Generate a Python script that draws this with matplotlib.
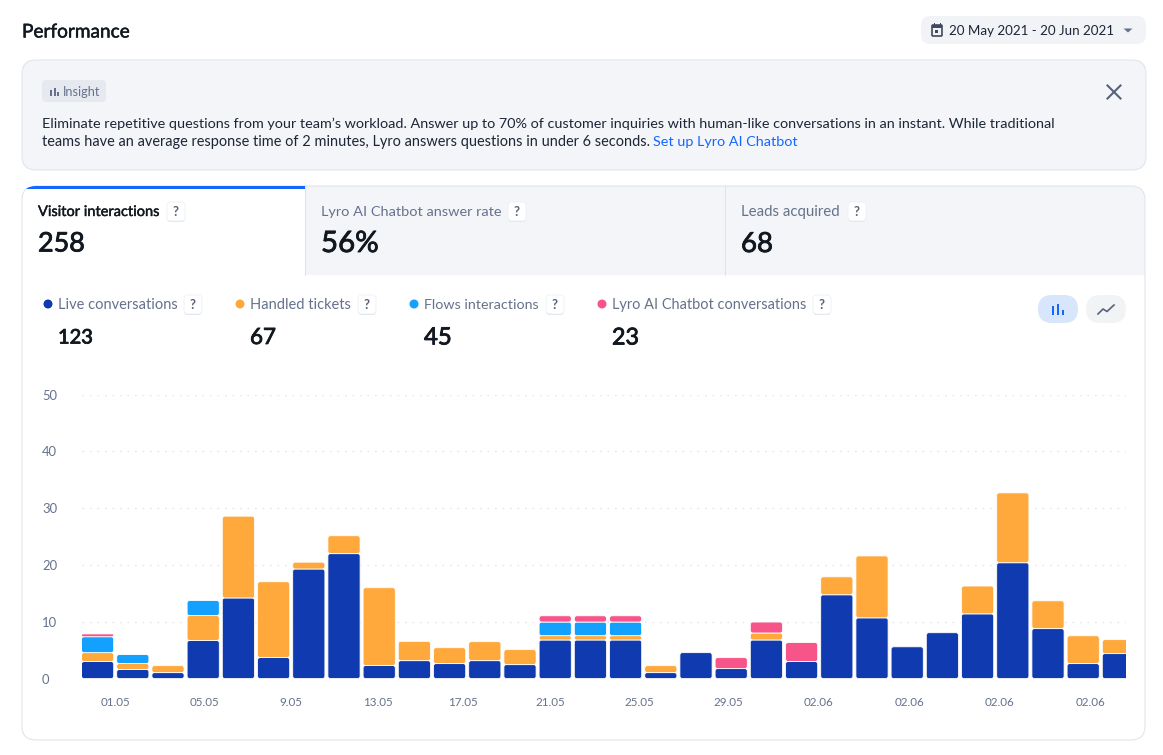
import matplotlib
matplotlib.use('Agg')
import matplotlib.pyplot as plt
import matplotlib.patheffects as pe
from matplotlib.patches import FancyBboxPatch, Rectangle, Circle, Polygon

plt.rcParams['font.family'] = ['Lato', 'DejaVu Sans']

# Daily counts per conversation type
live = [3.0, 1.6, 1.05, 6.7, 14.2, 3.7, 19.3, 22.0, 2.3, 3.16, 2.64, 3.16, 2.46, 6.8, 6.8,
        6.8, 1.05, 4.57, 1.76, 6.8, 3.0, 14.76, 10.7, 5.6, 8.08, 11.4, 20.4, 8.8, 2.64, 4.4]
handled = [1.57, 1.05, 1.23, 4.4, 14.4, 13.35, 1.2, 3.15, 13.7, 3.4, 2.8, 3.34, 2.64, 0.76, 0.76,
           0.76, 1.23, 0, 0, 1.23, 0, 3.16, 10.9, 0, 0, 4.9, 12.3, 4.9, 4.9, 2.46]
flows = [2.8, 1.58, 0, 2.64, 0, 0, 0, 0, 0, 0, 0, 0, 0, 2.4, 2.4,
         2.4, 0, 0, 0, 0, 0, 0, 0, 0, 0, 0, 0, 0, 0, 0]
lyro = [0.5, 0, 0, 0, 0, 0, 0, 0, 0, 0, 0, 0, 0, 1.1, 1.1,
        1.1, 0, 0, 1.93, 1.93, 3.34, 0, 0, 0, 0, 0, 0, 0, 0, 0]

series_names = ['Live conversations', 'Handled tickets', 'Flows interactions', 'Lyro AI Chatbot conversations']
series_totals = ['123', '67', '45', '23']
series_colors = ['#103BB0', '#FFA83B', '#14A0FF', '#F75489']

tick_pos = [0.5, 3.03, 5.5, 7.95, 10.39, 12.86, 15.39, 17.91, 20.47, 23.06, 25.61, 28.21]
tick_labels = ['01.05', '05.05', '9.05', '13.05', '17.05', '21.05', '25.05', '29.05',
               '02.06', '02.06', '02.06', '02.06']
y_ticks = [0, 10, 20, 30, 40, 50]

DARK = '#12181F'
BODY = '#1B2636'
MUTED = '#65728C'
BORDER = '#DEE4EC'
PANEL = '#F4F5F8'
BLUE = '#1466FF'

fig = plt.figure(figsize=(11.63, 7.55), dpi=100)
W, H = 1163, 755

# page layer in pixel coordinates
ui = fig.add_axes([0, 0, 1, 1], zorder=0)
ui.set_xlim(0, W)
ui.set_ylim(H, 0)
ui.axis('off')
renderer = fig.canvas.get_renderer()


def box(x0, y0, x1, y1, r, fc, ec='none', lw=0.75, z=1):
    p = FancyBboxPatch((x0, y0), x1 - x0, y1 - y0, boxstyle=f'round,pad=0,rounding_size={r}',
                       fc=fc, ec=ec, lw=lw, zorder=z)
    ui.add_patch(p)
    return p


def label(x, y, s, width, color=BODY, stroke=0, size=10, z=5):
    # scale the font so the string spans the wanted width
    t = ui.text(x, y + 1, s, color=color, fontsize=size, va='center', ha='left', zorder=z)
    w = t.get_window_extent(renderer).width
    t.set_fontsize(size * width / w)
    if stroke:
        # a thin outline gives a medium weight
        t.set_path_effects([pe.withStroke(linewidth=stroke, foreground=color)])
    return t


def help_badge(x, y):
    box(x, y + 1.5, x + 18, y + 20, 4, '#DDE1E8', z=3)
    box(x, y, x + 18, y + 19, 4, 'white', ec='#EEF0F4', lw=0.6, z=4)
    ui.text(x + 9, y + 10, '?', color='#56637B', fontsize=9.5, fontweight='bold', ha='center', va='center', zorder=5)


# header
label(22, 31, 'Performance', 108, DARK, 0.35)
box(921, 16, 1146, 44, 9, '#F2F3F6')
label(949, 30, '20 May 2021 - 20 Jun 2021', 165, BODY)
box(932, 25, 942, 36, 1, 'none', ec='#3E4A5E', lw=1.2, z=3)
ui.add_patch(Rectangle((932, 25), 10, 2.5, fc='#3E4A5E', zorder=3))
ui.add_patch(Rectangle((934, 23), 1.4, 2.5, fc='#3E4A5E', zorder=3))
ui.add_patch(Rectangle((939.6, 23), 1.4, 2.5, fc='#3E4A5E', zorder=3))
ui.add_patch(Rectangle((935, 30), 2.5, 2.5, fc='#3E4A5E', zorder=3))
ui.add_patch(Polygon([[1123.5, 28.5], [1132.5, 28.5], [1128, 32.5]], fc=MUTED, zorder=3))

# insight banner
box(22, 60, 1146, 170, 14, PANEL, ec=BORDER)
box(42, 80, 106, 102, 4, '#E6E9EF', z=2)
for bx, top in zip([50, 53.5, 57], [90, 87.5, 92]):
    ui.add_patch(Rectangle((bx, top), 2, 96 - top, fc=MUTED, zorder=3))
label(63, 91, 'Insight', 37, MUTED)
label(42, 123, 'Eliminate repetitive questions from your team\u2019s workload. Answer up to 70% of customer '
      'inquiries with human-like conversations in an instant. While traditional', 1017, BODY)
label(42, 141, 'teams have an average response time of 2 minutes, Lyro answers questions in under 6 seconds.',
      606, BODY)
label(653, 141, 'Set up Lyro AI Chatbot', 145, BLUE)
ui.plot([1107.5, 1120.5], [85.5, 98.5], color='#56637B', lw=1.5, zorder=3)
ui.plot([1107.5, 1120.5], [98.5, 85.5], color='#56637B', lw=1.5, zorder=3)

# main card with three tabs across the top
card = box(22, 186, 1145, 740, 14, 'white', z=1)
for x0, x1 in [(305, 725), (725, 1145)]:
    r = Rectangle((x0, 186), x1 - x0, 89, fc=PANEL, zorder=2)
    ui.add_patch(r)
    r.set_clip_path(card)
box(22, 186, 1145, 740, 14, 'none', ec=BORDER, z=3)
ui.plot([305, 305], [186, 275], color=BORDER, lw=0.75, zorder=3)
ui.plot([725, 725], [186, 275], color=BORDER, lw=0.75, zorder=3)
active = Rectangle((22, 186), 283, 3, fc=BLUE, zorder=4)
ui.add_patch(active)
active.set_clip_path(card)

label(38, 211, 'Visitor interactions', 122, DARK, 0.3)
help_badge(167, 202)
label(38, 243, '258', 47, DARK, 0.6)
label(321, 211, 'Lyro AI Chatbot answer rate', 180, MUTED)
help_badge(508, 202)
label(321, 243, '56%', 58, DARK, 0.6)
label(741, 211, 'Leads acquired', 99, MUTED)
help_badge(848, 202)
label(741, 243, '68', 32, DARK, 0.6)

# series legend with totals
legend_x = [58, 250, 424, 612]
legend_w = [119, 101, 115, 194]
total_w = [35, 26, 28, 27]
for name, total, col, lx, lw_, tw in zip(series_names, series_totals, series_colors, legend_x, legend_w, total_w):
    ui.add_patch(Circle((lx - 10, 304), 4.5, fc=col, zorder=3))
    label(lx, 304, name, lw_, MUTED)
    help_badge(lx + lw_ + 7, 295)
    label(lx, 337, total, tw, DARK, 0.6)

# bar / line toggle
box(1038, 295, 1078, 323, 14, '#D8E6FB', z=2)
box(1086, 295, 1126, 323, 14, '#F2F3F5', z=2)
for bx, top in zip([1052, 1057, 1062], [306, 303.5, 309.5]):
    ui.add_patch(Rectangle((bx, top), 2.4, 314.5 - top, fc=BLUE, zorder=3))
ui.plot([1098, 1103, 1107, 1114], [314, 309, 311.5, 305], color='#56637B', lw=1.2, zorder=3)

# stacked bars
ax = fig.add_axes([82 / W, 1 - 678.6 / H, (1126 - 82) / W, 284 / H], zorder=1)
ax.patch.set_alpha(0)
x_per_px = 1 / 35.2
ax.set_xlim(-15.6 * x_per_px, 1028.4 * x_per_px)
ax.set_ylim(0, 50)
y_per_px = 50 / 284
aspect = y_per_px / x_per_px

bottom = [0] * len(live)
for values, col in zip([live, handled, flows, lyro], series_colors):
    bars = ax.bar(range(len(values)), values, width=0.915, bottom=bottom, color=col)
    # swap the plain rectangles for rounded ones of the same size
    for rect in list(bars):
        x0, y0, w, h = rect.get_x(), rect.get_y(), rect.get_width(), rect.get_height()
        rect.remove()
        if h <= 0:
            continue
        rs = min(2.5, h / y_per_px / 2) * x_per_px
        ax.add_patch(FancyBboxPatch((x0, y0), w, h, boxstyle=f'round,pad=0,rounding_size={rs}',
                                    mutation_aspect=aspect, fc=col, ec='white', lw=0.6, zorder=3))
    bottom = [b + v for b, v in zip(bottom, values)]

for s in ax.spines.values():
    s.set_visible(False)
ax.set_yticks(y_ticks)
ax.set_xticks(tick_pos)
ax.set_xticklabels(tick_labels)
ax.yaxis.grid(True, color='#E4E7ED', linewidth=1, linestyle=(0, (1.2, 4.2)))
ax.xaxis.grid(False)
ax.set_axisbelow(True)
ax.tick_params(axis='x', length=0, pad=13, labelsize=8.4, labelcolor=MUTED)
ax.tick_params(axis='y', length=0, pad=28.8, labelsize=9.4, labelcolor=MUTED)
for t in ax.get_yticklabels():
    t.set_horizontalalignment('left')

fig.savefig('out.png', dpi=100, facecolor='white')
